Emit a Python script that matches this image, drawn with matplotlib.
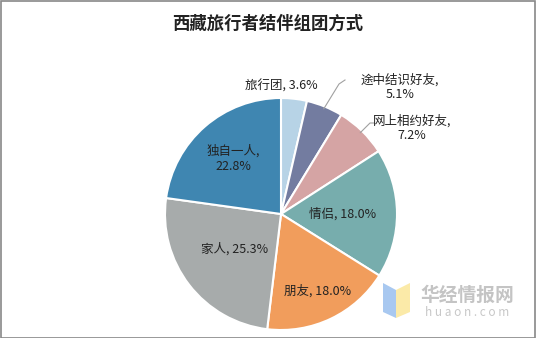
import numpy as np
import matplotlib.pyplot as plt
from matplotlib.patches import Rectangle, Polygon

plt.rcParams['font.family'] = ['Noto Sans CJK SC', 'DejaVu Sans']

# data
labels = ['旅行团', '途中结识好友', '网上相约好友', '情侣', '朋友', '家人', '独自一人']
values = [3.6, 5.1, 7.2, 18.0, 18.0, 25.3, 22.8]
colors = ['#b7d3e6', '#737ca0', '#d5a4a4', '#77adad', '#f19d5c', '#a7abab', '#3f86b1']
title = '西藏旅行者结伴组团方式'

fig = plt.figure(figsize=(5.36, 3.38), dpi=100)
fig.patch.set_facecolor('white')

# pie centre ~ (281,214) px, radius ~116 px
W, H = 536, 338
cx, cy, r = 281, 214, 116
ax = fig.add_axes([(cx - r) / W, (H - cy - r) / H, 2 * r / W, 2 * r / H])
ax.pie(values, colors=colors, startangle=90, counterclock=False,
       wedgeprops=dict(edgecolor='white', linewidth=1.5))
ax.set_xlim(-1, 1)
ax.set_ylim(-1, 1)
ax.set_aspect('equal')
ax.axis('off')

# label placement (inside slices) as radius fraction, None = outside
inside_r = [None, None, None, 0.53, 0.74, 0.5, 0.63]
cum = np.cumsum([0] + values[:-1])
for i, (lab, v) in enumerate(zip(labels, values)):
    mid = np.deg2rad(90 - (cum[i] + v / 2) * 3.6)
    if inside_r[i] is not None:
        rr = inside_r[i]
        txt = f'{lab}, {v:.1f}%'
        if lab == '独自一人':
            txt = f'{lab},\n{v:.1f}%'
        ax.text(rr * np.cos(mid), rr * np.sin(mid), txt, ha='center', va='center',
                fontsize=9, color='#222222', linespacing=1.2)

# outside labels
def px(x, y):
    return (x - cx) / r, (cy - y) / r

ax.text(*px(281, 86), f'{labels[0]}, {values[0]:.1f}%', ha='center', va='center',
        fontsize=9, color='#222222')
ax.text(*px(400, 87), f'{labels[1]},\n{values[1]:.1f}%', ha='center', va='center',
        fontsize=9, color='#222222', linespacing=1.2)
ax.text(*px(412, 128), f'{labels[2]},\n{values[2]:.1f}%', ha='center', va='center',
        fontsize=9, color='#222222', linespacing=1.2)

# leader lines
for i, end in [(1, [(339, 84), (345, 80)]), (2, [(370, 123), (374, 123)])]:
    mid = np.deg2rad(90 - (cum[i] + values[i] / 2) * 3.6)
    xs = [np.cos(mid) * 0.98] + [px(*p)[0] for p in end]
    ys = [np.sin(mid) * 0.98] + [px(*p)[1] for p in end]
    ax.plot(xs, ys, color='#a0a0a0', lw=0.8, clip_on=False)

fig.text(0.5, 1 - 24 / H, title, ha='center', va='center', fontsize=12.5,
         fontweight='bold', color='#222222')

# watermark
fig.patches.append(Polygon([[383 / W, 1 - 283 / H], [396 / W, 1 - 290 / H],
                            [396 / W, 1 - 318 / H], [383 / W, 1 - 312 / H]],
                           closed=True, transform=fig.transFigure,
                           facecolor='#a8c8f0', edgecolor='none'))
fig.patches.append(Polygon([[396 / W, 1 - 290 / H], [410 / W, 1 - 283 / H],
                            [410 / W, 1 - 312 / H], [396 / W, 1 - 318 / H]],
                           closed=True, transform=fig.transFigure,
                           facecolor='#fbeaa8', edgecolor='none'))
fig.text(467 / W, 1 - 295 / H, '华经情报网', ha='center', va='center',
         fontsize=13.5, fontweight='bold', color='#c4c4c4')
fig.text(467 / W, 1 - 313 / H, 'h u a o n . c o m', ha='center', va='center',
         fontsize=8.5, color='#c8c8c8')

# border
fig.patches.append(Rectangle((0.5 / W, 0.5 / H), 1 - 1.5 / W, 1 - 1.5 / H,
                             transform=fig.transFigure, fill=False,
                             edgecolor='#888888', linewidth=1.2))

fig.savefig('out.png', dpi=100)
